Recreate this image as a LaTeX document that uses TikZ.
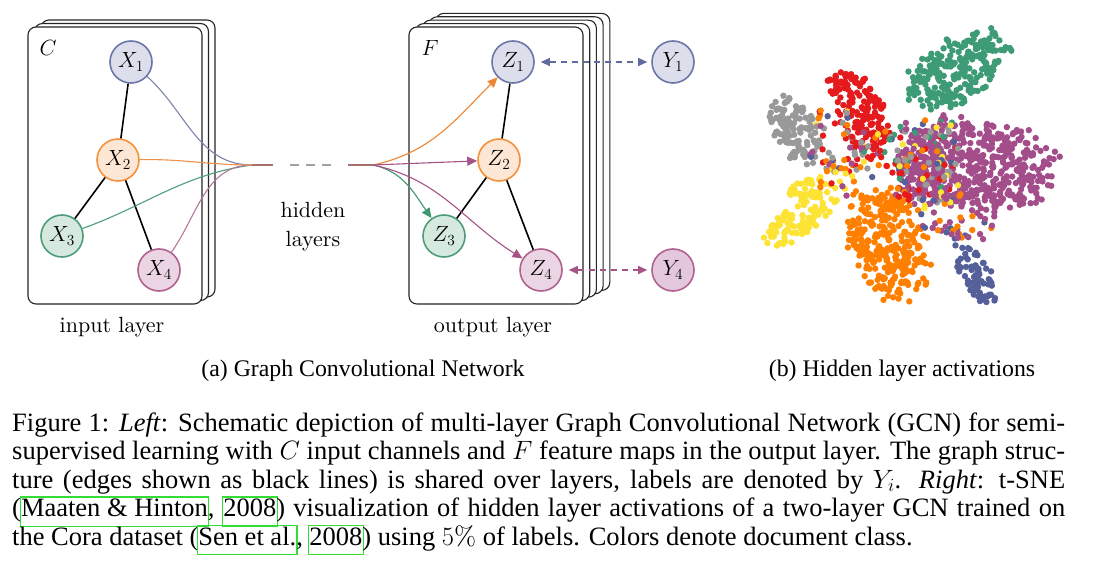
\RequirePackage{fix-cm}
\documentclass[tikz,border=0pt]{standalone}
\usepackage{fontspec}
\setmainfont{lmroman10-regular.otf}[ItalicFont=lmroman10-italic.otf, BoldFont=lmroman10-bold.otf]
\newfontfamily\capfont{Liberation Serif}
\usetikzlibrary{arrows.meta}
\definecolor{blueB}{HTML}{6B76A6}\definecolor{blueF}{HTML}{DCDFEB}
\definecolor{orangeB}{HTML}{F2923D}\definecolor{orangeF}{HTML}{FDE6D3}
\definecolor{greenB}{HTML}{4E9C78}\definecolor{greenF}{HTML}{D5E9DE}
\definecolor{pinkB}{HTML}{B0628F}\definecolor{pinkF}{HTML}{EBD4E3}
\definecolor{pinkY}{HTML}{E3C7DD}
\definecolor{lnBlue}{HTML}{7C84AE}\definecolor{lnOrange}{HTML}{F0914A}
\definecolor{lnGreen}{HTML}{4F9E7C}\definecolor{lnPink}{HTML}{B47A9E}
\definecolor{arOrange}{HTML}{EE8531}\definecolor{arPurple}{HTML}{A65486}
\definecolor{arGreen}{HTML}{3F9870}\definecolor{arBlue}{HTML}{5F6A9E}
\definecolor{midBrown}{HTML}{A5706F}\definecolor{midGray}{HTML}{A0A0A0}
\definecolor{citegreen}{HTML}{33DD33}
\definecolor{tG}{HTML}{3D9B76}\definecolor{tR}{HTML}{E41A1C}
\definecolor{tGr}{HTML}{999999}\definecolor{tY}{HTML}{FDE333}
\definecolor{tO}{HTML}{FF8000}\definecolor{tP}{HTML}{A34E8B}
\definecolor{tN}{HTML}{55609A}
\newbox\gcitebox
\newcommand\gbox[1]{\leavevmode\setbox\gcitebox=\hbox{#1}%
  \rlap{\kern-1.5pt{\color{citegreen}\setlength\fboxrule{1.3pt}\setlength\fboxsep{0pt}%
  \fbox{\rule[-9pt]{0pt}{28pt}\kern\dimexpr\wd\gcitebox+0.4pt\relax}}}\box\gcitebox}
\newcommand\tsne[7]{%
  \foreach \i in {1,...,#7}{%
    \pgfmathsetmacro\rr{sqrt(rnd)*(0.8+0.3*rnd)}%
    \pgfmathsetmacro\ttheta{360*rnd}%
    \pgfmathsetmacro\uu{#4*\rr*cos(\ttheta)}%
    \pgfmathsetmacro\vv{#5*\rr*sin(\ttheta)}%
    \fill[#1] ({#2+\uu*cos(#6)-\vv*sin(#6)},{#3+\uu*sin(#6)+\vv*cos(#6)}) circle[radius=3.2pt];
  }}
% mixed dots in a box: xmin xmax ymin ymax n list
\newcommand\tmix[6]{%
  \foreach \i in {1,...,#5}{%
    \pgfmathrandomitem{\cc}{#6}%
    \pgfmathsetmacro\px{#1+(#2-#1)*rnd}%
    \pgfmathsetmacro\py{#3+(#4-#3)*rnd}%
    \fill[\cc] (\px,\py) circle[radius=3.2pt];
  }}
\pgfmathdeclarerandomlist{tcols}{{tG}{tR}{tGr}{tY}{tO}{tP}{tP}{tP}{tN}{tR}{tGr}}
\pgfmathdeclarerandomlist{tgr}{{tGr}{tR}{tY}{tP}{tO}{tGr}{tR}{tN}}
\pgfmathdeclarerandomlist{tyl}{{tY}{tGr}{tP}{tO}{tY}{tR}}
\pgfmathdeclarerandomlist{tpo}{{tP}{tO}{tP}{tN}{tY}}
\pgfmathdeclarerandomlist{tpn}{{tP}{tP}{tO}{tN}}
\begin{document}
\begin{tikzpicture}[x=1pt,y=-1pt,
  dfont/.style={font=\fontsize{22}{26}\selectfont},
  capline/.style={font=\capfont\fontsize{26.5}{28.5}\selectfont, inner sep=0pt, anchor=base west},
  subcap/.style={font=\capfont\fontsize{23.8}{27}\selectfont, inner sep=0pt, anchor=base},
  cardbox/.style={draw=black!85, line width=1.1pt, fill=white, rounded corners=8pt},
  gnode/.style={circle, minimum size=42pt, inner sep=0pt, line width=1.6pt, dfont},
  nblue/.style={gnode, draw=blueB, fill=blueF},
  norange/.style={gnode, draw=orangeB, fill=orangeF},
  ngreen/.style={gnode, draw=greenB, fill=greenF},
  npink/.style={gnode, draw=pinkB, fill=pinkF},
  edge/.style={line width=1.6pt, black},
  thin/.style={line width=1.1pt},
  arr/.style={line width=1.1pt, -{Triangle[length=10pt,width=9pt]}},
  ydash/.style={line width=1.1pt, dash pattern=on 6pt off 5pt,
     {Triangle[length=9pt,width=8pt]}-{Triangle[length=9pt,width=8pt]},
     shorten <=6pt, shorten >=4pt}]
\useasboundingbox (0,0) rectangle (1108,564);
\fill[white] (0,0) rectangle (1108,564);

% cards
\foreach \k in {2,1,0}
  \draw[cardbox] ({28+6.5*\k},{27-3.5*\k}) rectangle ({202+6.5*\k},{304-3.5*\k});
\foreach \k in {4,3,2,1,0}
  \draw[cardbox] ({409+6.7*\k},{27-3.4*\k}) rectangle ({583+6.7*\k},{304-3.4*\k});

\node[dfont] (C) at (48,48) {$C$};
\node[dfont] (F) at (430,48) {$F$};

% input nodes
\node[nblue] (X1) at (131,62) {$X_1$};
\node[norange] (X2) at (118,160) {$X_2$};
\node[ngreen] (X3) at (62,236) {$X_3$};
\node[npink] (X4) at (159,270) {$X_4$};
\draw[edge] (X1) -- (X2);
\draw[edge] (X2) -- (X3);
\draw[edge] (X2) -- (X4);

% output nodes
\node[nblue] (Z1) at (513,62) {$Z_1$};
\node[norange] (Z2) at (499,160) {$Z_2$};
\node[ngreen] (Z3) at (444,236) {$Z_3$};
\node[npink] (Z4) at (541,270) {$Z_4$};
\node[nblue] (Y1) at (673,62) {$Y_1$};
\node[gnode, draw=pinkB, fill=pinkY] (Y4) at (673,270) {$Y_4$};
\draw[edge] (Z1) -- (Z2);
\draw[edge] (Z2) -- (Z3);
\draw[edge] (Z2) -- (Z4);

% hidden layers connectors
\coordinate (L) at (252,165);
\coordinate (L1) at (273,165);
\coordinate (D1) at (290,165);
\coordinate (D2) at (331,165);
\coordinate (R1) at (348,165);
\coordinate (R) at (373,165);
\draw[thin, lnBlue] (X1) to[out=-42,in=180] (L);
\draw[thin, lnGreen] (X3) to[out=20,in=188] (L);
\draw[thin, lnPink] (X4) to[out=55,in=180] (L);
\draw[thin, lnOrange] (X2) to[out=1,in=180] (L);
\draw[line width=1.3pt, midBrown] (L) -- (L1);
\draw[line width=1.3pt, midGray, dash pattern=on 9pt off 7pt] (D1) -- (D2);
\draw[line width=1.3pt, midBrown] (R1) -- (R);
\draw[arr, arOrange] (R) to[out=12,in=-135] (Z1);
\draw[arr, arPurple] (R) -- (Z2);
\draw[arr, arGreen] (R) to[out=-12,in=125] (Z3);
\draw[arr, arPurple] (R) to[out=-12,in=148] (Z4);
\draw[ydash, arBlue] (Z1) -- (Y1);
\draw[ydash, arPurple] (Z4) -- (Y4);

\node[dfont, anchor=base] (inl) at (112,332) {input layer};
\node[dfont, anchor=base] (outl) at (493,332) {output layer};
\node[dfont, anchor=base] (hid1) at (313,218) {hidden};
\node[dfont, anchor=base] (hid2) at (313,247) {layers};

% t-SNE scatter
\pgfmathsetseed{11}
\tsne{tP}{978}{165}{78}{48}{5}{480}
\tsne{tP}{922}{165}{25}{38}{0}{80}
\tsne{tG}{958}{70}{55}{32}{-30}{230}
\tsne{tR}{860}{112}{48}{25}{62}{160}
\tsne{tGr}{793}{128}{38}{22}{65}{110}
\tsne{tY}{802}{217}{45}{17}{-38}{100}
\tsne{tY}{808}{188}{20}{10}{-10}{25}
\tsne{tO}{888}{243}{62}{38}{75}{300}
\tsne{tN}{975}{272}{38}{15}{65}{75}
\tmix{895}{960}{120}{205}{120}{tcols}
\tmix{810}{860}{110}{170}{45}{tgr}
\tmix{815}{862}{162}{196}{25}{tyl}
\tmix{918}{965}{190}{232}{30}{tpo}
\tmix{945}{995}{212}{242}{22}{tpn}
\tmix{860}{900}{130}{180}{30}{tcols}

% subcaptions
\node[subcap] (suba) at (363,376) {(a) Graph Convolutional Network};
\node[subcap] (subb) at (902,376) {(b) Hidden layer activations};

% caption
\node[capline] (c1) at (12,431) {\hbox to 1053pt{Figure 1: \textit{Left}: Schematic depiction of multi-layer Graph Convolutional Network (GCN) for semi-}};
\node[capline] (c2) at (12,459.5) {\hbox to 1053pt{supervised learning with $C$ input channels and $F$ feature maps in the output layer. The graph struc-}};
\node[capline] (c3) at (12,488) {\hbox to 1053pt{ture (edges shown as black lines) is shared over layers, labels are denoted by $Y_i$. \textit{Right}: t-SNE}};
\node[capline] (c4) at (12,516.5) {\hbox to 1053pt{(\gbox{Maaten \& Hinton}, \gbox{2008}) visualization of hidden layer activations of a two-layer GCN trained on}};
\node[capline] (c5) at (12,545) {the Cora dataset (\gbox{Sen et al.}, \gbox{2008}) using $5\%$ of labels. Colors denote document class.};
\end{tikzpicture}
\end{document}
